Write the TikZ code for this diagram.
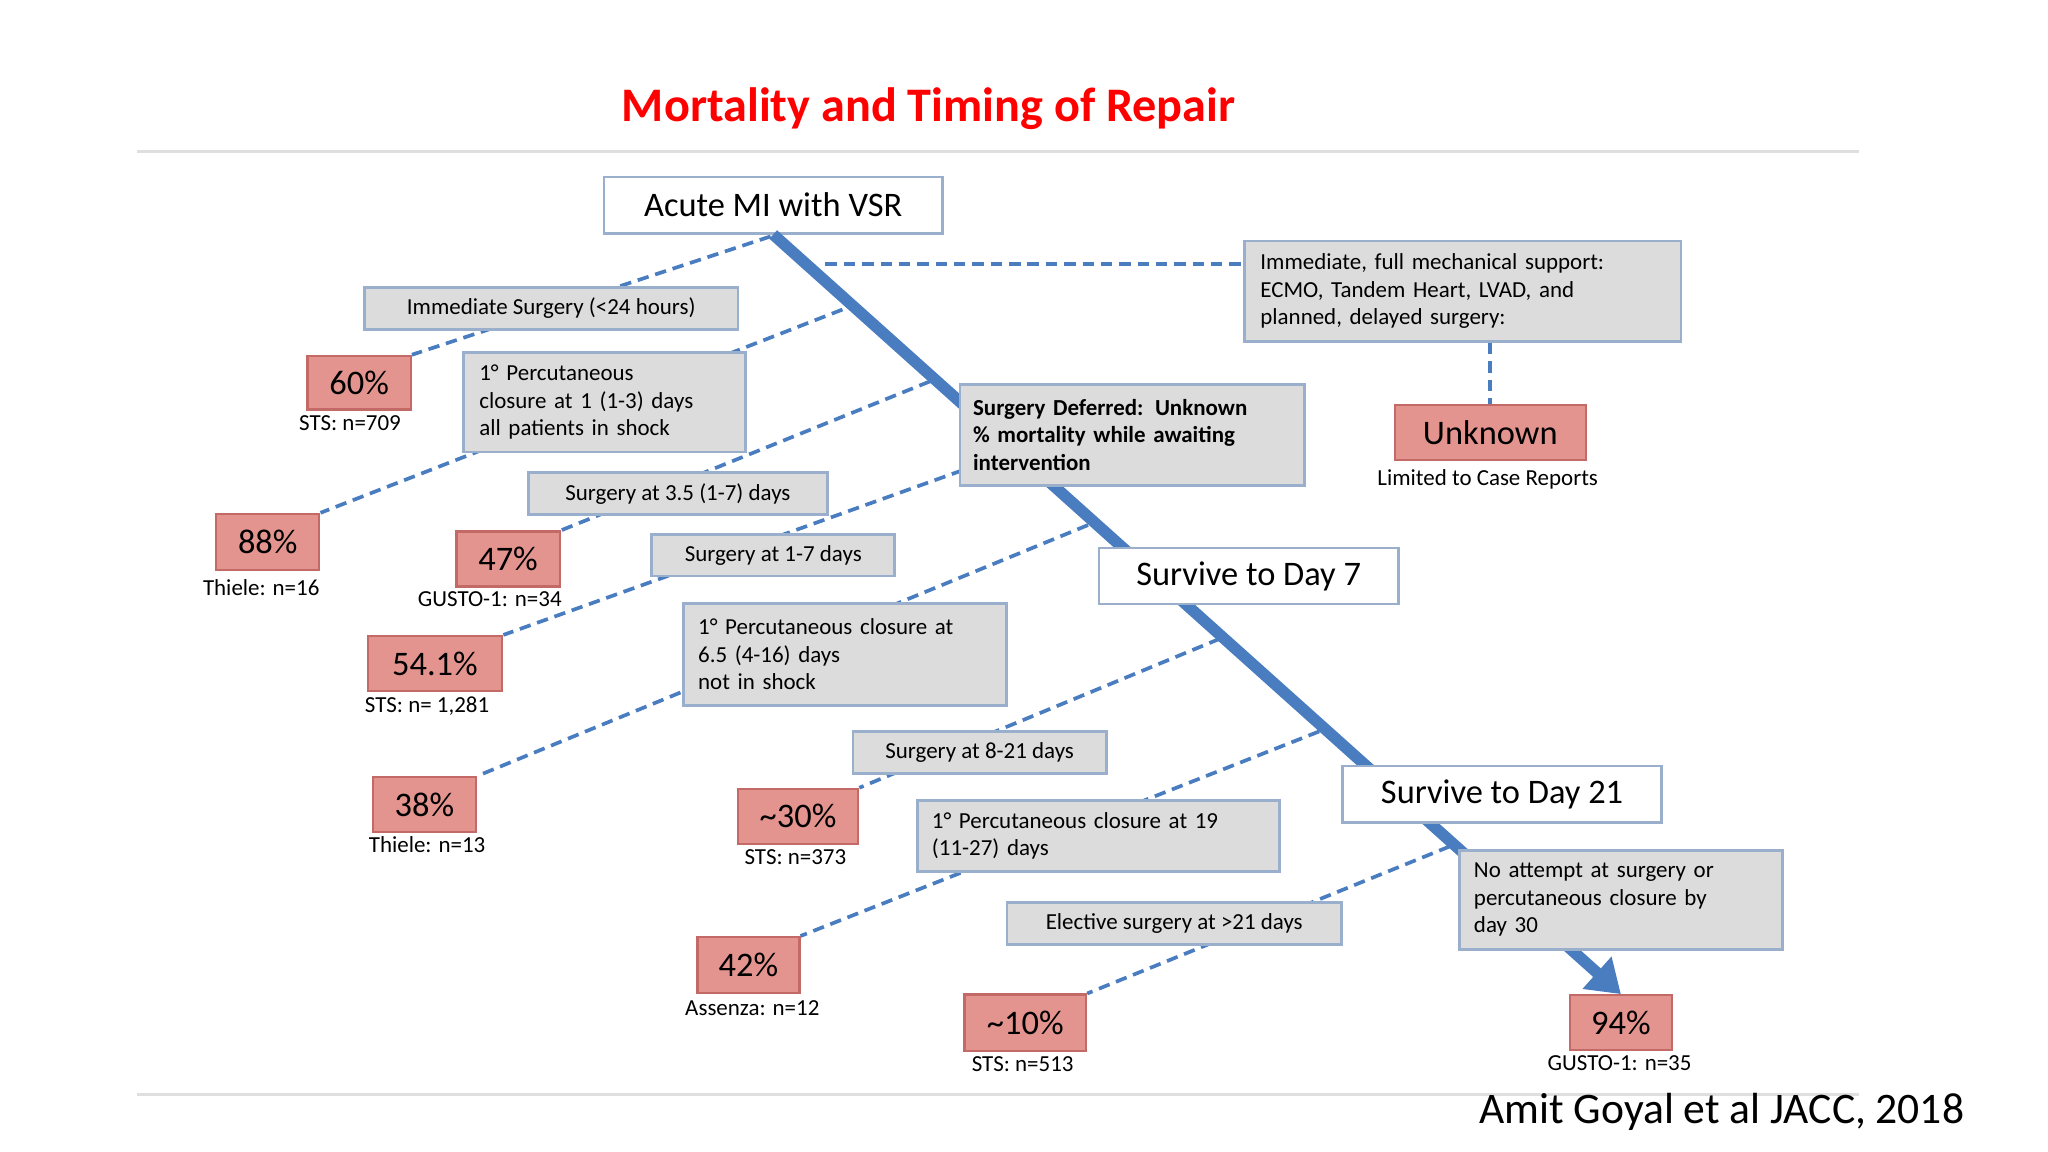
\documentclass[tikz,border=0pt]{standalone}
\usepackage{fontspec}
\setmainfont{Carlito}
\usetikzlibrary{arrows.meta}
\definecolor{bl}{HTML}{4A7CC0}
\definecolor{bord}{HTML}{9AAFCB}
\definecolor{gbox}{HTML}{DCDCDC}
\definecolor{rbox}{HTML}{E3948F}
\definecolor{rbord}{HTML}{C46A66}
\tikzset{
  gb/.style={draw=bord,line width=1.2pt,fill=gbox,font=\fontsize{10}{12}\selectfont,align=left,inner sep=0pt,anchor=center},
  wb/.style={draw=bord,line width=1.2pt,fill=white,font=\fontsize{15}{18}\selectfont,inner sep=0pt},
  rb/.style={draw=rbord,line width=1pt,fill=rbox,font=\fontsize{15}{18}\selectfont,inner sep=0pt},
  lab/.style={font=\fontsize{10}{12}\selectfont},
  dl/.style={draw=bl,line width=1.6pt,dash pattern=on 5pt off 3pt},
}
\begin{document}
\begin{tikzpicture}[x=0.02cm,y=-0.02cm]
\useasboundingbox (0,0) rectangle (1568,882);
\draw[gray!25,line width=1.5pt] (105,116) -- (1423,116);
\draw[gray!25,line width=1.5pt] (105,838) -- (1423,838);
\node[text=red,font=\fontsize{21}{25}\selectfont\bfseries] (title) at (711,83) {Mortality and Timing of Repair};
\node[font=\fontsize{19}{23}\selectfont,anchor=east] (cite) at (1510,851) {Amit Goyal et al JACC, 2018};
% coordinates for dashed lines
\coordinate (d1) at (590,181);
\coordinate (d2) at (645,237);
\coordinate (d3) at (712,292);
\coordinate (d4) at (737,360);
\coordinate (d5) at (833,402);
\coordinate (d6) at (934,489);
\coordinate (d7) at (1010,560);
\coordinate (d8) at (1110,648);
\coordinate (m0) at (632,202);
% endpoints
\node[rb,minimum width=79*0.02cm,minimum height=41*0.02cm] (p60) at (275,293) {60\%};
\node[rb,minimum width=79*0.02cm,minimum height=43*0.02cm] (p88) at (205,415) {88\%};
\node[rb,minimum width=79*0.02cm,minimum height=42*0.02cm] (p47) at (389,428) {47\%};
\node[rb,minimum width=103*0.02cm,minimum height=42*0.02cm] (p54) at (333,508) {54.1\%};
\node[rb,minimum width=79*0.02cm,minimum height=42*0.02cm] (p38) at (325,616) {38\%};
\node[rb,minimum width=92*0.02cm,minimum height=42*0.02cm] (p30) at (611,625) {\textasciitilde30\%};
\node[rb,minimum width=78*0.02cm,minimum height=43*0.02cm] (p42) at (573,739) {42\%};
\node[rb,minimum width=93*0.02cm,minimum height=43*0.02cm] (p10) at (785,783) {\textasciitilde10\%};
\node[rb,minimum width=78*0.02cm,minimum height=42*0.02cm] (p94) at (1241,783) {94\%};
\node[rb,minimum width=146*0.02cm,minimum height=42*0.02cm] (unk) at (1141,331) {Unknown};
% dashed lines (behind boxes)
\begin{scope}[on background layer/.style={}]
\draw[dl] (d1) -- (p60.north east);
\draw[dl] (d2) -- (p88.north east);
\draw[dl] (d3) -- (p47.north east);
\draw[dl] (d4) -- (p54.north east);
\draw[dl] (d5) -- (p38.north east);
\draw[dl] (d6) -- (p30.north east);
\draw[dl] (d7) -- (p42.north east);
\draw[dl] (d8) -- (p10.north east);
\end{scope}
% main path
\node[wb,minimum width=259*0.02cm,minimum height=43*0.02cm] (acute) at (592,157) {Acute MI with VSR};
\draw[bl,line width=5pt,-{Triangle[length=14pt,width=18pt]}] (acute.south) -- (p94.north);
\draw[dl] (m0) -- (953,202);
\node[gb,minimum width=334*0.02cm,minimum height=77*0.02cm,text width=310*0.02cm] (mech) at (1120,223) {Immediate, full mechanical support:\\ECMO, Tandem Heart, LVAD, and\\planned, delayed surgery:};
\draw[dl] (mech.south -| unk.north) -- (unk.north);
\node[lab] (unkl) at (1139,367) {Limited to Case Reports};
% boxes over lines
\node[gb,minimum width=286*0.02cm,minimum height=32*0.02cm,align=center] (imm) at (422,236) {Immediate Surgery (<24 hours)};
\node[gb,minimum width=216*0.02cm,minimum height=76*0.02cm,text width=192*0.02cm] (pc1) at (463,308) {1° Percutaneous\\closure at 1 (1-3) days\\*all patients in shock};
\node[gb,minimum width=264*0.02cm,minimum height=77*0.02cm,text width=244*0.02cm,font=\fontsize{10}{12}\selectfont\bfseries] (def) at (867,333) {Surgery Deferred: Unknown\\\% mortality while awaiting\\intervention};
\node[gb,minimum width=229*0.02cm,minimum height=32*0.02cm,align=center] (s35) at (519,378) {Surgery at 3.5 (1-7) days};
\node[gb,minimum width=186*0.02cm,minimum height=32*0.02cm,align=center] (s17) at (592,425) {Surgery at 1-7 days};
\node[gb,minimum width=247*0.02cm,minimum height=78*0.02cm,text width=225*0.02cm] (pc65) at (647,501) {1° Percutaneous closure at\\6.5 (4-16) days\\*not in shock};
\node[wb,minimum width=229*0.02cm,minimum height=43*0.02cm] (s7) at (956,441) {Survive to Day 7};
\node[gb,minimum width=194*0.02cm,minimum height=32*0.02cm,align=center] (s821) at (750,576) {Surgery at 8-21 days};
\node[wb,minimum width=244*0.02cm,minimum height=43*0.02cm] (s21) at (1150,608) {Survive to Day 21};
\node[gb,minimum width=277*0.02cm,minimum height=54*0.02cm,text width=255*0.02cm] (pc19) at (841,640) {1° Percutaneous closure at 19\\(11-27) days};
\node[gb,minimum width=256*0.02cm,minimum height=32*0.02cm,align=center] (el) at (899,707) {Elective surgery at >21 days};
\node[gb,minimum width=247*0.02cm,minimum height=76*0.02cm,text width=225*0.02cm] (noat) at (1241,689) {No attempt at surgery or\\percutaneous closure by\\day 30};
% labels
\node[lab] (l60) at (268,324) {STS: n=709};
\node[lab] (l88) at (200,450) {Thiele: n=16};
\node[lab] (l47) at (375,459) {GUSTO-1: n=34};
\node[lab] (l54) at (327,541) {STS: n= 1,281};
\node[lab] (l38) at (327,647) {Thiele: n=13};
\node[lab] (l30) at (609,656) {STS: n=373};
\node[lab] (l42) at (576,772) {Assenza: n=12};
\node[lab] (l10) at (783,815) {STS: n=513};
\node[lab] (l94) at (1240,814) {GUSTO-1: n=35};
\end{tikzpicture}
\end{document}
